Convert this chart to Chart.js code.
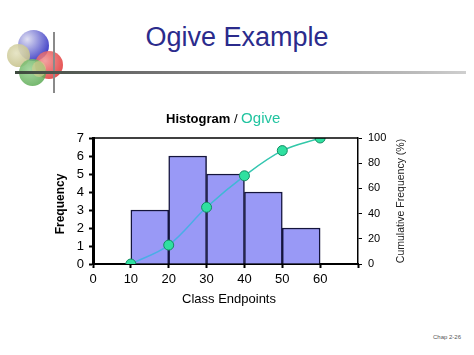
<!DOCTYPE html>
<html>
<head>
<meta charset="utf-8">
<script src="https://cdn.jsdelivr.net/npm/chart.js@4.4.1/dist/chart.umd.min.js"></script>
<style>
  body { margin: 0; background: #fff; font-family: "Liberation Sans", Arial, sans-serif; }
  #slide { position: relative; width: 474px; height: 355px; overflow: hidden; }
  .dot { position: absolute; border-radius: 50%; }
  #title { position: absolute; left: 0; top: 24px; width: 474px; text-align: center;
           font-size: 27px; line-height: 27px; color: #2b2b8c; }
  #rule { position: absolute; left: 15px; top: 71px; width: 451px; height: 3px;
          background: linear-gradient(to right, #3d4a3d, #6a6a6a 25%, #bdbdbd 90%, #cfcfcf); }
  #vrule { position: absolute; left: 53px; top: 32px; width: 2px; height: 61px; background: #8a8a8a; }
  #chap { position: absolute; left: 433px; top: 334px; font-size: 6px; color: #555; }
  #wrap { position: absolute; left: 0; top: 0; width: 474px; height: 355px; }
</style>
</head>
<body>
<div id="slide">
  <div class="dot" style="left:18px;top:30px;width:31px;height:31px;background:radial-gradient(circle at 30% 30%, #dcdcf0, #2828c0 80%);opacity:.9"></div>
  <div class="dot" style="left:35px;top:51px;width:28px;height:28px;background:radial-gradient(circle at 35% 35%, #f09090, #e03030 80%);opacity:.85"></div>
  <div class="dot" style="left:7px;top:44px;width:23px;height:23px;background:radial-gradient(circle at 40% 40%, #e4e2c0, #c4c088 80%);opacity:.9"></div>
  <div class="dot" style="left:19px;top:59px;width:27px;height:27px;background:radial-gradient(circle at 40% 40%, #98d090, #58a850 80%);opacity:.85"></div>
  <div class="dot" style="left:32px;top:61px;width:14px;height:16px;background:#d8cf90;opacity:.6"></div>
  <div id="vrule"></div>
  <div id="rule"></div>
  <div id="title">Ogive Example</div>
  <div id="chap">Chap 2-26</div>
  <div id="wrap"><canvas id="myChart"></canvas></div>
</div>
<script>
'use strict';

// histogram classes (midpoints) and frequencies
const classMids = [15, 25, 35, 45, 55];
const frequencies = [3, 6, 5, 4, 2];
// ogive: class endpoints and cumulative %
const endpoints = [10, 20, 30, 40, 50, 60];
const cumulativePct = [0, 15, 45, 70, 90, 100];
const xTicks = [0, 10, 20, 30, 40, 50, 60, 70];
const xLabels = ['0', '10', '20', '30', '40', '50', '60', ''];
const yTicks = [0, 1, 2, 3, 4, 5, 6, 7];
const y2Ticks = [0, 20, 40, 60, 80, 100];

const FONT = '"Liberation Sans", Arial, sans-serif';

const segColors = ['#4aaee6', '#4aaee6', '#40b8d6', '#34c6b0', '#32c8a8'];

const textPlugin = {
    id: 'texts',
    afterDraw(chart) {
        const c = chart.ctx;
        const a = chart.chartArea;
        c.save();
        // frame top line
        c.strokeStyle = '#000';
        c.lineWidth = 1.5;
        c.beginPath();
        c.moveTo(a.left, a.top);
        c.lineTo(a.right, a.top);
        c.stroke();

        // chart title
        c.textBaseline = 'alphabetic';
        c.textAlign = 'left';
        let x = 166;
        c.fillStyle = '#000';
        c.font = 'bold 13px ' + FONT;
        c.fillText('Histogram', x, 123);
        x += c.measureText('Histogram').width;
        c.font = '13px ' + FONT;
        c.fillText(' / ', x, 123);
        x += c.measureText(' / ').width;
        c.fillStyle = '#22c4a0';
        c.font = '15px ' + FONT;
        c.fillText('Ogive', x, 123);

        // x title
        c.fillStyle = '#000';
        c.font = '13px ' + FONT;
        c.textAlign = 'center';
        c.textBaseline = 'middle';
        c.fillText('Class Endpoints', 229, 299);

        // left title
        c.save();
        c.translate(61, 204);
        c.rotate(-Math.PI / 2);
        c.font = 'bold 12px ' + FONT;
        c.fillText('Frequency', 0, 0);
        c.restore();

        // right title
        c.save();
        c.translate(401, 201);
        c.rotate(-Math.PI / 2);
        c.fillStyle = '#222';
        c.font = '10.5px ' + FONT;
        c.fillText('Cumulative Frequency (%)', 0, 0);
        c.restore();

        c.restore();
    }
};

const setTicks = list => s => { s.ticks = list.map(v => ({ value: v })); };

const ctx = document.getElementById('myChart');
const myChart = new Chart(ctx, {
    type: 'bar',
    data: {
        datasets: [{
            type: 'line',
            label: 'Ogive',
            yAxisID: 'y2',
            order: 0,
            data: endpoints.map((e, i) => ({ x: e, y: cumulativePct[i] })),
            borderColor: '#3cbccc',
            borderWidth: 1.5,
            tension: 0.35,
            segment: {
                borderColor: c => segColors[c.p0DataIndex]
            },
            pointRadius: 5,
            pointBackgroundColor: '#2fe0a0',
            pointBorderColor: '#148a62',
            pointBorderWidth: 1
        },
        {
            label: 'Histogram',
            yAxisID: 'y',
            order: 1,
            data: classMids.map((m, i) => ({ x: m, y: frequencies[i] })),
            backgroundColor: '#9999f6',
            borderColor: '#14143c',
            borderWidth: 1.5,
            barPercentage: 1,
            categoryPercentage: 1
        }]
    },
    options: {
        responsive: true,
        maintainAspectRatio: false,
        animation: false,
        events: [],
        layout: { padding: { top: 138, left: 0, right: 0, bottom: 0 } },
        plugins: { legend: { display: false }, tooltip: { enabled: false } },
        scales: {
            x: {
                type: 'linear',
                offset: false,
                min: 0,
                max: 70,
                afterFit: s => { s.height = 91; },
                afterBuildTicks: setTicks(xTicks),
                ticks: {
                    autoSkip: false,
                    maxRotation: 0,
                    padding: 4,
                    color: '#000',
                    font: { family: FONT, size: 13 },
                    callback: (v, i) => xLabels[i]
                },
                grid: { offset: false, drawOnChartArea: false, tickLength: 4, tickWidth: 2, tickColor: '#000' },
                border: { color: '#000', width: 2 }
            },
            y: {
                position: 'left',
                min: 0,
                max: 7,
                afterFit: s => { s.width = 93; },
                afterBuildTicks: setTicks(yTicks),
                ticks: {
                    autoSkip: false,
                    padding: 5,
                    color: '#000',
                    font: { family: FONT, size: 13 }
                },
                grid: { drawOnChartArea: false, tickLength: 4, tickWidth: 2, tickColor: '#000' },
                border: { color: '#000', width: 3 }
            },
            y2: {
                position: 'right',
                min: 0,
                max: 100,
                afterFit: s => { s.width = 116; },
                afterBuildTicks: setTicks(y2Ticks),
                ticks: {
                    autoSkip: false,
                    padding: 6,
                    color: '#000',
                    font: { family: FONT, size: 11 }
                },
                grid: { drawOnChartArea: false, tickLength: 4, tickWidth: 1, tickColor: '#000' },
                border: { color: '#000', width: 1.5 }
            }
        }
    },
    plugins: [textPlugin]
});
</script>
</body>
</html>
